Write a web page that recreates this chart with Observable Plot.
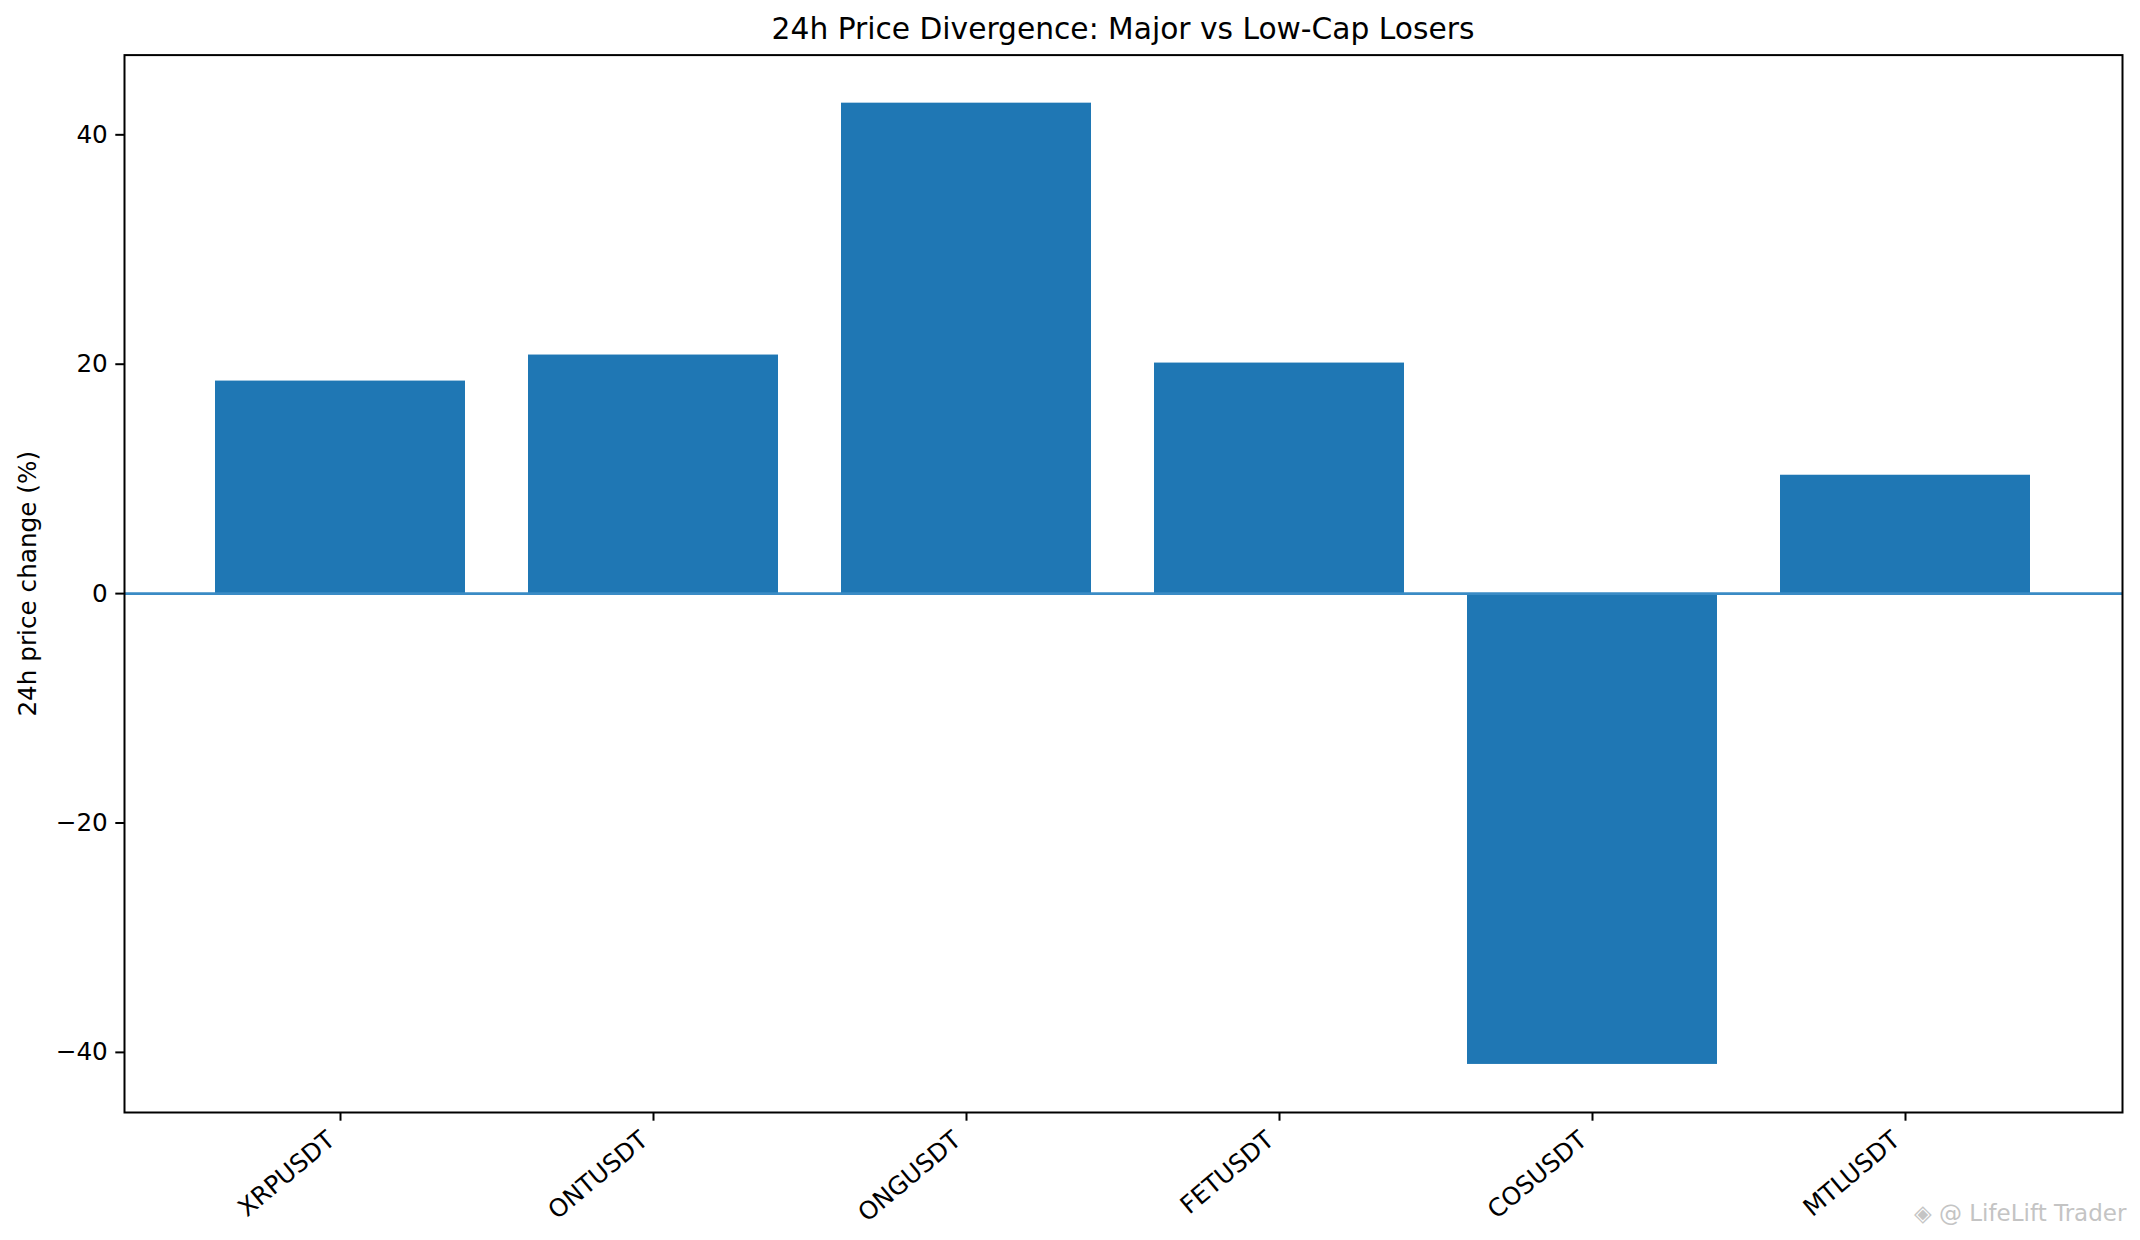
<!DOCTYPE html>
<html>
<head>
<meta charset="utf-8">
<script src="https://cdn.jsdelivr.net/npm/d3@7"></script>
<script src="https://cdn.jsdelivr.net/npm/@observablehq/plot@0.6"></script>
<style>
  html, body { margin: 0; padding: 0; background: #fff; }
  #wrap { position: relative; width: 2140px; height: 1240px; overflow: hidden; font-family: "DejaVu Sans", sans-serif; }
  #title { box-sizing: border-box; height: 45px; padding-top: 13px; line-height: 32px; font-size: 29.7px; color: #000; text-align: center; padding-left: 106px; white-space: nowrap; }
  #wm { position: absolute; left: 1914px; top: 1200px; font-size: 23px; color: #c4c4c4; white-space: nowrap; }
  svg { display: block; }
</style>
</head>
<body>
<div id="wrap">
  <div id="title"></div>
  <div id="chart"></div>
  <div id="wm"></div>
</div>
<script>
const titleText = "24h Price Divergence: Major vs Low-Cap Losers";
const yLabel = "24h price change (%)";
const watermark = "◈ @ LifeLift Trader";
const symbols = ["XRPUSDT", "ONTUSDT", "ONGUSDT", "FETUSDT", "COSUSDT", "MTLUSDT"];
const changes = [18.53, 20.8, 42.76, 20.1, -41.05, 10.32];
const yTicks = [-40, -20, 0, 20, 40];

document.getElementById("title").textContent = titleText;
document.getElementById("wm").textContent = watermark;

const data = symbols.map((s, i) => ({symbol: s, change: changes[i]}));
const lo = d3.min(changes), hi = d3.max(changes);
const pad = (hi - lo) * 0.05;

const fmt = d => d < 0 ? "\u2212" + Math.abs(d) : String(d);

const chart = Plot.plot({
  width: 2140,
  height: 1195,
  marginTop: 9.6,
  marginBottom: 128,
  marginLeft: 124,
  marginRight: 18,
  style: {fontFamily: "DejaVu Sans, sans-serif", fontSize: "24.7px", color: "#000", background: "#fff"},
  x: {type: "band", domain: symbols, paddingInner: 0.2, paddingOuter: 0.29, align: 0.5, label: null},
  y: {domain: [lo - pad, hi + pad], label: null},
  marks: [
    Plot.barY(data, {x: "symbol", y: "change", fill: "#1f77b4"}),
    Plot.ruleY([0], {stroke: "#3a8bc5", strokeWidth: 2.6}),
    Plot.axisY({ticks: yTicks, tickFormat: fmt, tickSize: 8.7, tickPadding: 8, strokeWidth: 2, label: null, fill: "#000", fontSize: 24.7}),
    Plot.axisX({tickSize: 8.7, tickFormat: () => "", strokeWidth: 2, label: null}),
    Plot.text(symbols, {x: d => d, frameAnchor: "bottom", dx: -9, dy: 24, rotate: -40, textAnchor: "end", lineAnchor: "middle", fill: "#000", fontSize: 24.7}),
    Plot.text([yLabel], {frameAnchor: "left", dx: -96, rotate: -90, textAnchor: "middle", lineAnchor: "middle", fill: "#000", fontSize: 24.7}),
    Plot.frame({stroke: "#000", strokeWidth: 2})
  ]
});
document.getElementById("chart").appendChild(chart);
</script>
</body>
</html>
